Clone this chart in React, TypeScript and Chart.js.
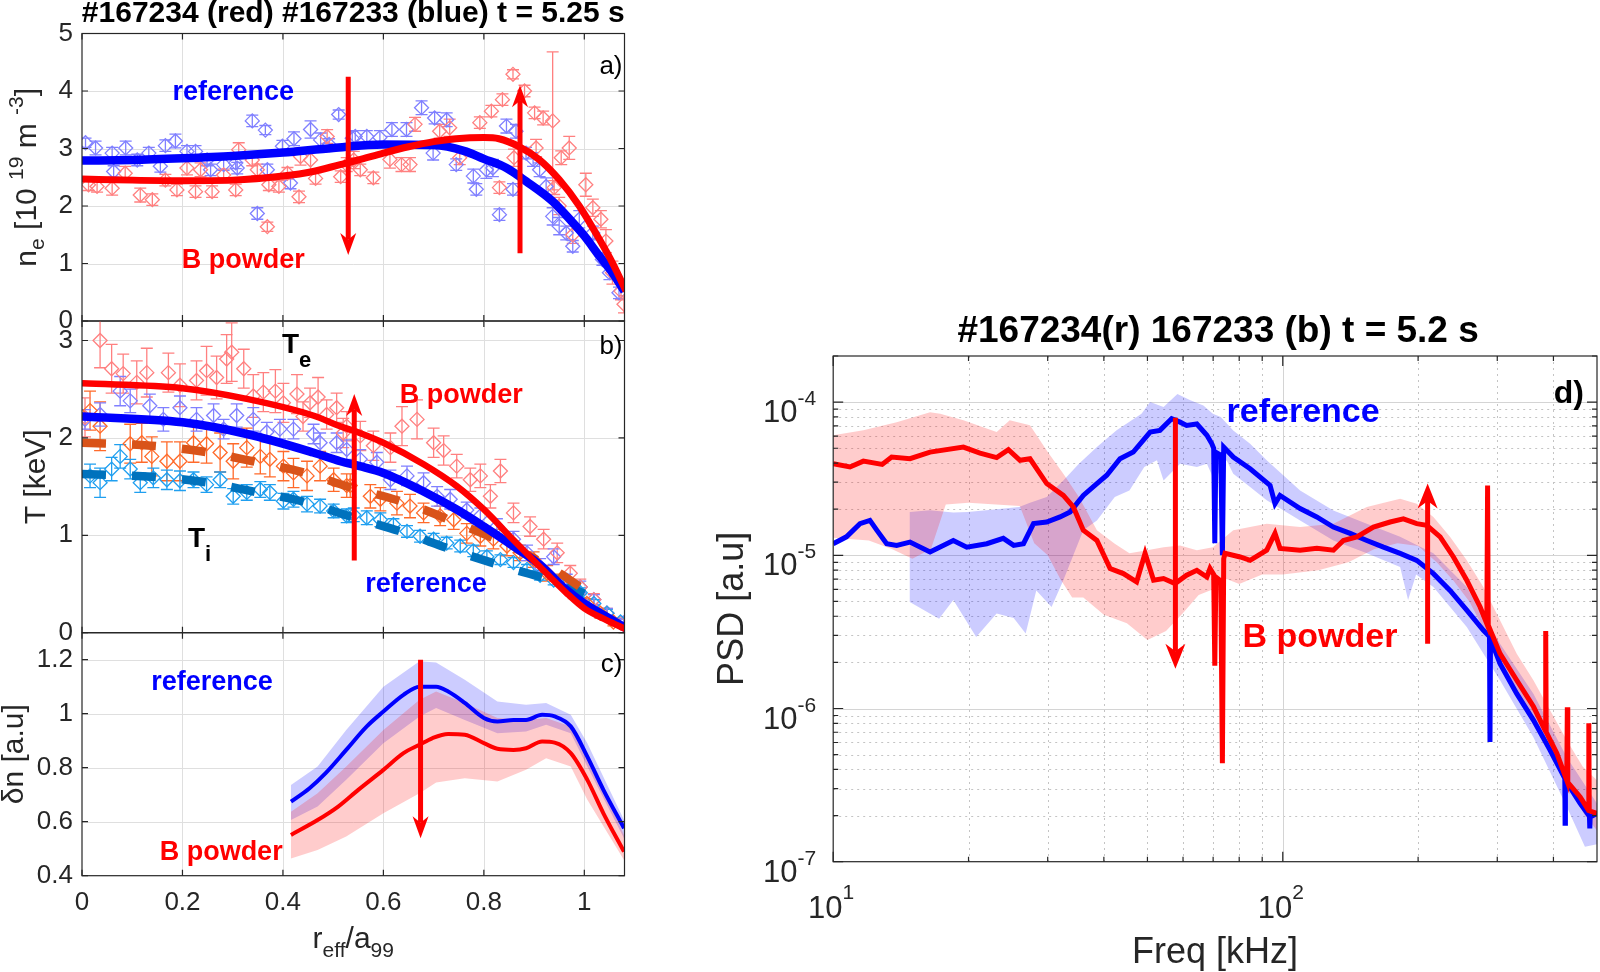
import React, { useEffect, useRef } from 'react';
import { Chart, registerables } from 'chart.js';

Chart.register(...registerables);

const FONT = '"Liberation Sans", Arial, Helvetica, sans-serif';
const AXC = '#262626';
const RED = '#ff0000';
const BLUE = '#0000ff';

// ---------------- panel a : density ----------------
const xTicksABC = [0, 0.2, 0.4, 0.6, 0.8, 1];
const yTicksA = [0, 1, 2, 3, 4, 5];
// [r/a, ne, err]
const neRefPts = [
  [0.007, 3.1, 0.08], [0.027, 3.01, 0.12], [0.06, 2.92, 0.1], [0.063, 2.6, 0.1], [0.087, 3.01, 0.12], [0.11, 2.8, 0.1],
  [0.133, 2.92, 0.1], [0.156, 2.69, 0.1], [0.166, 3.05, 0.1], [0.186, 3.13, 0.12], [0.209, 2.95, 0.1], [0.226, 2.95, 0.1],
  [0.249, 2.8, 0.1], [0.256, 2.63, 0.1], [0.282, 2.72, 0.1], [0.306, 2.75, 0.1], [0.309, 2.66, 0.1], [0.339, 3.48, 0.1],
  [0.349, 1.87, 0.1], [0.365, 3.32, 0.08], [0.369, 2.63, 0.1], [0.399, 3.04, 0.1], [0.415, 2.4, 0.1], [0.422, 3.17, 0.12],
  [0.455, 3.33, 0.15], [0.475, 3.15, 0.12], [0.492, 3.07, 0.1], [0.511, 3.59, 0.08], [0.538, 3.18, 0.12], [0.544, 3.21, 0.1],
  [0.567, 3.21, 0.1], [0.593, 3.19, 0.12], [0.617, 3.33, 0.12], [0.646, 3.33, 0.12], [0.676, 3.71, 0.12], [0.699, 2.92, 0.12],
  [0.702, 3.53, 0.1], [0.726, 3.5, 0.12], [0.745, 2.72, 0.1], [0.779, 2.52, 0.12], [0.785, 2.29, 0.1], [0.805, 2.63, 0.15],
  [0.818, 2.66, 0.15], [0.831, 1.85, 0.1], [0.845, 3.39, 0.12], [0.858, 2.29, 0.1], [0.864, 3.3, 0.12], [0.884, 2.92, 0.1],
  [0.898, 2.81, 0.12], [0.911, 2.63, 0.12], [0.924, 2.34, 0.15], [0.937, 1.82, 0.15], [0.95, 1.65, 0.15], [0.964, 1.53, 0.12],
  [0.977, 1.3, 0.1], [0.99, 1.77, 0.15], [1.017, 1.53, 0.12], [1.036, 1.07, 0.1], [1.05, 0.84, 0.12], [1.069, 0.49, 0.1],
  [1.083, 0.61, 0.1],
];
const neBPts = [
  [0.013, 2.37, 0.1], [0.03, 2.34, 0.1], [0.06, 2.31, 0.12], [0.086, 2.57, 0.12], [0.116, 2.19, 0.12], [0.14, 2.11, 0.1],
  [0.166, 2.45, 0.1], [0.189, 2.28, 0.1], [0.209, 2.66, 0.12], [0.226, 2.25, 0.1], [0.236, 2.63, 0.12], [0.259, 2.25, 0.1],
  [0.282, 2.54, 0.1], [0.306, 2.28, 0.1], [0.312, 2.98, 0.12], [0.339, 2.8, 0.1], [0.349, 2.63, 0.1], [0.369, 1.64, 0.08],
  [0.372, 2.37, 0.1], [0.392, 2.34, 0.1], [0.409, 2.57, 0.1], [0.432, 2.16, 0.1], [0.435, 2.86, 0.15], [0.455, 2.8, 0.2],
  [0.465, 2.48, 0.1], [0.488, 3.21, 0.12], [0.515, 2.51, 0.1], [0.527, 2.72, 0.12], [0.541, 2.8, 0.15], [0.554, 2.63, 0.1],
  [0.58, 2.49, 0.1], [0.613, 2.81, 0.15], [0.636, 2.72, 0.12], [0.653, 2.72, 0.12], [0.663, 3.42, 0.12], [0.712, 3.3, 0.12],
  [0.732, 3.36, 0.15], [0.752, 2.84, 0.12], [0.792, 3.45, 0.1], [0.815, 3.65, 0.1], [0.831, 2.32, 0.1], [0.837, 3.85, 0.1],
  [0.858, 4.29, 0.08], [0.86, 2.84, 0.15], [0.881, 4.0, 0.1], [0.901, 3.62, 0.1], [0.904, 3.01, 0.15], [0.918, 3.53, 0.12],
  [0.937, 3.48, 1.2], [0.94, 2.32, 0.12], [0.95, 2.0, 0.15], [0.954, 2.84, 0.12], [0.97, 3.01, 0.2], [0.977, 1.5, 0.15],
  [1.003, 2.37, 0.2], [1.017, 1.97, 0.15], [1.033, 1.77, 0.15], [1.043, 1.39, 0.2], [1.056, 0.84, 0.2], [1.073, 0.52, 0.15],
  [1.079, 0.29, 0.15],
];
const neRefFitX = [0, 0.1, 0.2, 0.3, 0.4, 0.5, 0.6, 0.7, 0.76, 0.8, 0.845, 0.884, 0.937, 0.977, 1.0, 1.03, 1.056, 1.08];
const neRefFitY = [2.79, 2.8, 2.83, 2.87, 2.93, 3.01, 3.07, 3.06, 2.96, 2.82, 2.66, 2.43, 2.08, 1.71, 1.48, 1.13, 0.84, 0.52];
const neBFitX = [0, 0.1, 0.2, 0.3, 0.4, 0.46, 0.514, 0.55, 0.6, 0.65, 0.7, 0.745, 0.8, 0.83, 0.871, 0.91, 0.95, 0.99, 1.03, 1.056, 1.083];
const neBFitY = [2.47, 2.45, 2.44, 2.45, 2.52, 2.6, 2.72, 2.8, 2.92, 3.03, 3.12, 3.17, 3.19, 3.17, 3.03, 2.81, 2.46, 2.0, 1.42, 1.01, 0.52];

// ---------------- panel b : temperatures ----------------
const yTicksB = [0, 1, 2, 3];
const teBPts = [
  [0.006, 2.21, 0.2], [0.036, 3.0, 0.28], [0.059, 2.71, 0.25], [0.082, 2.66, 0.2], [0.109, 2.57, 0.22], [0.129, 2.67, 0.25],
  [0.172, 2.67, 0.2], [0.195, 2.54, 0.22], [0.228, 2.59, 0.2], [0.248, 2.69, 0.25], [0.268, 2.62, 0.22], [0.288, 2.81, 0.25],
  [0.298, 2.88, 0.3], [0.322, 2.71, 0.2], [0.341, 2.43, 0.22], [0.361, 2.47, 0.2], [0.385, 2.48, 0.22], [0.401, 2.36, 0.2],
  [0.428, 2.45, 0.2], [0.44, 2.22, 0.15], [0.454, 2.36, 0.15], [0.47, 2.42, 0.2], [0.487, 2.24, 0.15], [0.507, 2.31, 0.15],
  [0.52, 2.05, 0.15], [0.527, 2.12, 0.15], [0.554, 2.02, 0.15], [0.58, 1.92, 0.15], [0.614, 1.9, 0.15], [0.637, 2.12, 0.2],
  [0.667, 2.19, 0.2], [0.7, 1.95, 0.15], [0.72, 1.87, 0.15], [0.746, 1.71, 0.12], [0.773, 1.57, 0.12], [0.793, 1.61, 0.12],
  [0.813, 1.4, 0.12], [0.833, 1.66, 0.12], [0.859, 1.23, 0.1], [0.892, 1.09, 0.1], [0.919, 0.96, 0.1], [0.946, 0.82, 0.1],
  [0.972, 0.61, 0.08], [0.992, 0.47, 0.08], [1.019, 0.34, 0.06], [1.045, 0.2, 0.05], [1.072, 0.1, 0.04],
];
const teRefPts = [
  [0.006, 2.19, 0.1], [0.036, 2.24, 0.12], [0.076, 2.48, 0.15], [0.096, 2.38, 0.12], [0.135, 2.33, 0.12], [0.162, 2.19, 0.12],
  [0.195, 2.31, 0.12], [0.228, 2.19, 0.12], [0.262, 2.23, 0.12], [0.282, 2.09, 0.1], [0.308, 2.23, 0.12], [0.341, 2.19, 0.12],
  [0.368, 2.06, 0.1], [0.394, 2.09, 0.1], [0.421, 2.09, 0.1], [0.461, 2.04, 0.1], [0.474, 1.95, 0.1], [0.507, 1.95, 0.1],
  [0.527, 1.88, 0.1], [0.554, 1.78, 0.1], [0.587, 1.75, 0.1], [0.614, 1.57, 0.1], [0.647, 1.61, 0.1], [0.68, 1.54, 0.1],
  [0.707, 1.4, 0.1], [0.733, 1.37, 0.1], [0.766, 1.26, 0.08], [0.793, 1.2, 0.08], [0.826, 1.09, 0.08], [0.859, 0.96, 0.08],
  [0.886, 0.82, 0.08], [0.912, 0.68, 0.08], [0.939, 0.78, 0.08], [0.965, 0.54, 0.06], [0.992, 0.47, 0.06], [1.019, 0.34, 0.05],
  [1.045, 0.2, 0.05], [1.078, 0.1, 0.04],
];
const tiBPts = [
  [0.016, 2.28, 0.2], [0.036, 2.12, 0.25], [0.096, 1.94, 0.2], [0.119, 1.95, 0.2], [0.139, 1.81, 0.2], [0.169, 1.76, 0.2],
  [0.195, 1.76, 0.2], [0.222, 1.95, 0.2], [0.248, 1.94, 0.2], [0.275, 1.85, 0.2], [0.301, 1.76, 0.18], [0.328, 1.9, 0.2],
  [0.355, 1.81, 0.18], [0.374, 1.78, 0.18], [0.401, 1.71, 0.15], [0.421, 1.64, 0.15], [0.448, 1.61, 0.15], [0.474, 1.71, 0.15],
  [0.501, 1.57, 0.12], [0.527, 1.51, 0.12], [0.534, 1.51, 0.12], [0.574, 1.4, 0.12], [0.594, 1.37, 0.12], [0.627, 1.33, 0.12],
  [0.653, 1.3, 0.12], [0.68, 1.23, 0.1], [0.713, 1.2, 0.1], [0.74, 1.16, 0.1], [0.766, 1.02, 0.1], [0.793, 0.99, 0.1],
  [0.819, 0.96, 0.1], [0.846, 0.89, 0.1], [0.872, 0.82, 0.08], [0.899, 0.75, 0.08], [0.926, 0.61, 0.08], [0.952, 0.54, 0.06],
  [0.979, 0.41, 0.06], [1.005, 0.3, 0.05], [1.032, 0.2, 0.05], [1.058, 0.11, 0.04],
];
const tiRefPts = [
  [0.016, 1.61, 0.12], [0.036, 1.54, 0.15], [0.059, 1.68, 0.12], [0.076, 1.81, 0.12], [0.096, 1.68, 0.1], [0.116, 1.54, 0.1],
  [0.142, 1.59, 0.1], [0.169, 1.57, 0.1], [0.195, 1.56, 0.1], [0.222, 1.57, 0.08], [0.248, 1.52, 0.08], [0.275, 1.57, 0.08],
  [0.301, 1.4, 0.08], [0.328, 1.44, 0.08], [0.355, 1.47, 0.08], [0.374, 1.44, 0.08], [0.401, 1.35, 0.08], [0.421, 1.37, 0.08],
  [0.448, 1.32, 0.08], [0.474, 1.3, 0.07], [0.501, 1.25, 0.07], [0.527, 1.2, 0.07], [0.541, 1.21, 0.07], [0.567, 1.18, 0.07],
  [0.594, 1.16, 0.07], [0.62, 1.11, 0.06], [0.647, 1.04, 0.06], [0.673, 0.99, 0.06], [0.7, 0.96, 0.06], [0.726, 0.92, 0.06],
  [0.753, 0.89, 0.06], [0.779, 0.84, 0.06], [0.806, 0.78, 0.06], [0.833, 0.75, 0.05], [0.859, 0.72, 0.05], [0.886, 0.65, 0.05],
  [0.912, 0.59, 0.05], [0.939, 0.54, 0.05], [0.965, 0.49, 0.05], [0.992, 0.41, 0.05], [1.019, 0.3, 0.04], [1.045, 0.2, 0.04],
  [1.072, 0.11, 0.04],
];
const teBFitX = [0, 0.2, 0.328, 0.46, 0.514, 0.553, 0.6, 0.68, 0.746, 0.8, 0.858, 0.911, 0.964, 1.0, 1.044, 1.083];
const teBFitY = [2.56, 2.51, 2.4, 2.23, 2.12, 2.05, 1.95, 1.73, 1.505, 1.265, 0.956, 0.68, 0.41, 0.25, 0.13, 0.035];
const teRefFitX = [0, 0.2, 0.328, 0.46, 0.514, 0.553, 0.6, 0.68, 0.746, 0.8, 0.858, 0.911, 0.964, 1.0, 1.044, 1.083];
const teRefFitY = [2.22, 2.16, 2.04, 1.85, 1.76, 1.71, 1.64, 1.45, 1.265, 1.09, 0.89, 0.7, 0.44, 0.3, 0.165, 0.045];
const tiBFitX = [0, 0.137, 0.24, 0.34, 0.445, 0.53, 0.64, 0.74, 0.84, 0.94, 1.0];
const tiBFitY = [1.95, 1.92, 1.86, 1.76, 1.64, 1.5, 1.34, 1.14, 0.92, 0.646, 0.44];
const tiRefFitX = [0, 0.14, 0.24, 0.34, 0.445, 0.53, 0.64, 0.74, 0.84, 0.94, 1.0];
const tiRefFitY = [1.63, 1.6, 1.55, 1.45, 1.34, 1.2, 1.03, 0.845, 0.68, 0.526, 0.4];

// ---------------- panel c : fluctuation ----------------
const yTicksC = [0.4, 0.6, 0.8, 1, 1.2];
const dnRefX = [0.416, 0.453, 0.485, 0.526, 0.567, 0.6, 0.64, 0.672, 0.705, 0.729, 0.762, 0.8, 0.827, 0.859, 0.884, 0.916, 0.941, 0.973, 1.006, 1.038, 1.079];
const dnRefY = [0.674, 0.724, 0.78, 0.866, 0.953, 1.008, 1.07, 1.1, 1.1, 1.082, 1.04, 0.984, 0.971, 0.977, 0.977, 0.996, 0.99, 0.953, 0.841, 0.718, 0.576];
const dnBX = [0.416, 0.469, 0.51, 0.55, 0.6, 0.64, 0.672, 0.697, 0.729, 0.762, 0.8, 0.827, 0.859, 0.884, 0.916, 0.941, 0.973, 1.006, 1.038, 1.079];
const dnBY = [0.551, 0.606, 0.656, 0.718, 0.792, 0.854, 0.885, 0.909, 0.925, 0.922, 0.891, 0.87, 0.866, 0.872, 0.897, 0.893, 0.854, 0.755, 0.631, 0.489];
const dnBandX = [0.416, 0.469, 0.526, 0.6, 0.672, 0.705, 0.762, 0.827, 0.884, 0.924, 0.973, 1.006, 1.079];
const dnRefUpY = [0.736, 0.804, 0.94, 1.1, 1.194, 1.19, 1.126, 1.045, 1.033, 1.04, 0.996, 0.891, 0.606];
const dnRefLoY = [0.606, 0.656, 0.755, 0.891, 0.99, 1.021, 0.977, 0.928, 0.934, 0.959, 0.928, 0.804, 0.539];
const dnBUpY = [0.637, 0.705, 0.804, 0.94, 1.052, 1.082, 1.04, 0.984, 0.977, 0.984, 0.953, 0.854, 0.551];
const dnBLoY = [0.464, 0.495, 0.545, 0.631, 0.705, 0.745, 0.761, 0.749, 0.792, 0.835, 0.804, 0.681, 0.458];

// ---------------- panel d : spectra ----------------
const yExpD = [-7, -6, -5, -4];
const xExpD = [1, 2];
const xMinorD = [20, 30, 40, 50, 60, 70, 80, 90, 200, 300, 400];
const psdRedX = [10, 10.9, 11.67, 12.85, 13.49, 14.82, 16.42, 19.48, 21.21, 23.1, 24.53, 26.03, 27.4, 29.85, 32.5, 34.2, 36, 38.6, 41.3, 44.2, 47.3, 49.4, 51.6, 54.3, 57.6, 61.1, 64.4, 67.8, 68.9, 70.2, 70.6, 71.0, 72.8, 73.4, 73.9, 74.4, 80.4, 84.6, 92.1, 96.1, 98.6, 109.3, 119.1, 129.6, 136.4, 146.1, 159.1, 173.3, 185.5, 198.6, 209.1, 223.9, 239.7, 256.6, 274.8, 284.4, 285.5, 286.5, 304.3, 331.5, 361, 383.3, 384.5, 385.5, 407, 428.3, 429.5, 430.5, 458.6, 478.6, 479.5, 480.5, 499.5];
const psdRedY = [3.96e-5, 3.77e-5, 4.12e-5, 3.92e-5, 4.38e-5, 4.27e-5, 4.72e-5, 5.09e-5, 4.65e-5, 4.34e-5, 4.89e-5, 4.17e-5, 4.27e-5, 2.94e-5, 2.46e-5, 2.07e-5, 1.46e-5, 1.25e-5, 8.2e-6, 7.6e-6, 6.7e-6, 1.03e-5, 6.87e-6, 7.05e-6, 6.54e-6, 7.41e-6, 7.98e-6, 7.22e-6, 8.2e-6, 7.5e-6, 1.9e-6, 7.2e-6, 6.8e-6, 4.4e-7, 9.5e-6, 1.03e-5, 9.75e-6, 9.27e-6, 1.08e-5, 1.39e-5, 1.11e-5, 1.08e-5, 1.11e-5, 1.08e-5, 1.25e-5, 1.32e-5, 1.53e-5, 1.65e-5, 1.73e-5, 1.61e-5, 1.57e-5, 1.32e-5, 9.75e-6, 6.87e-6, 4.6e-6, 3.58e-6, 2.86e-5, 3.5e-6, 2.28e-6, 1.53e-6, 1.03e-6, 7.2e-7, 3.2e-6, 7.0e-7, 5.1e-7, 3.4e-7, 1.02e-6, 3.3e-7, 2.65e-7, 2.17e-7, 8e-7, 2.15e-7, 2.07e-7];
const psdBlueX = [10, 10.7, 11.47, 12.07, 12.5, 13.15, 13.84, 14.82, 16.42, 18.5, 19.82, 21.96, 23.9, 25.2, 26.5, 27.9, 29.85, 31.96, 33.65, 36, 38.6, 40.6, 43.45, 46.5, 50.7, 53.3, 56.6, 59.1, 61.1, 64.4, 67.8, 69.5, 70.2, 70.6, 71.0, 72.8, 73.4, 73.9, 77.6, 84.6, 93.7, 96.1, 98.6, 109.3, 119, 129.6, 141.2, 153.8, 167.5, 182.4, 198.6, 216.3, 235.5, 256.6, 279.4, 288.3, 289, 289.8, 304.3, 331.5, 361, 393.1, 424, 424.6, 425.3, 458.6, 481, 481.9, 482.8, 500];
const psdBlueY = [1.19e-5, 1.32e-5, 1.61e-5, 1.69e-5, 1.46e-5, 1.19e-5, 1.16e-5, 1.22e-5, 1.05e-5, 1.25e-5, 1.13e-5, 1.19e-5, 1.29e-5, 1.16e-5, 1.19e-5, 1.61e-5, 1.65e-5, 1.78e-5, 1.92e-5, 2.46e-5, 2.94e-5, 3.33e-5, 4.27e-5, 4.72e-5, 6.37e-5, 6.54e-5, 7.8e-5, 7.4e-5, 7.05e-5, 7.2e-5, 6.07e-5, 5.36e-5, 5.0e-5, 1.2e-5, 4.7e-5, 4.5e-5, 1.0e-5, 5.09e-5, 4.38e-5, 3.67e-5, 2.86e-5, 2.17e-5, 2.46e-5, 2.02e-5, 1.78e-5, 1.53e-5, 1.39e-5, 1.25e-5, 1.13e-5, 1.03e-5, 9.27e-6, 7.59e-6, 5.9e-6, 4.38e-6, 3.24e-6, 2.95e-6, 6.05e-7, 2.85e-6, 1.96e-6, 1.25e-6, 8.4e-7, 5.35e-7, 3.5e-7, 1.78e-7, 3.4e-7, 2.4e-7, 1.98e-7, 1.65e-7, 1.96e-7, 2.07e-7];
const psdRedUp = [[10, 6.07e-5], [11.67, 6.54e-5], [13.84, 7.4e-5], [16.42, 8.6e-5], [17.3, 8.4e-5], [19.48, 7.6e-5], [23.1, 6.37e-5], [24.7, 7.6e-5], [27.4, 7.05e-5], [29.85, 4.84e-5], [32.5, 3.41e-5], [35.2, 2.4e-5], [38.6, 1.46e-5], [42.3, 1.19e-5], [45.6, 1.03e-5], [49.9, 1.08e-5], [54.3, 1.13e-5], [59.1, 1.16e-5], [64.4, 1.08e-5], [69.9, 1.13e-5], [77.6, 1.46e-5], [92.1, 1.61e-5], [109.3, 1.53e-5], [129.6, 1.61e-5], [153.8, 2.07e-5], [182.4, 2.34e-5], [198.6, 2.17e-5], [216.3, 1.78e-5], [235.5, 1.32e-5], [256.6, 9.27e-6], [279.4, 6.2e-6], [304.3, 3.77e-6], [331.5, 2.28e-6], [361, 1.53e-6], [393.1, 9.75e-7], [428.3, 6.2e-7], [465, 4.16e-7], [500, 3.4e-7]];
const psdRedLo = [[10, 1.3e-5], [12, 1.25e-5], [13.5, 1.1e-5], [15, 9.5e-6], [16.5, 1.1e-5], [17.8, 2.15e-5], [20, 2.2e-5], [23, 2.15e-5], [26, 2.1e-5], [28, 1.2e-5], [30, 1.0e-5], [32, 7e-6], [34, 5.3e-6], [36, 5.3e-6], [40, 4.1e-6], [45, 3.6e-6], [50, 2.8e-6], [55, 3.2e-6], [60, 4.2e-6], [65, 5.5e-6], [70, 6e-6], [75, 7e-6], [80, 6.5e-6], [90, 7.5e-6], [100, 7.5e-6], [120, 8e-6], [140, 9e-6], [160, 1.1e-5], [180, 1.2e-5], [200, 1.15e-5], [220, 9e-6], [240, 6.8e-6], [260, 5e-6], [280, 3.3e-6], [300, 2.3e-6], [330, 1.3e-6], [360, 8.5e-7], [400, 5e-7], [430, 3.2e-7], [470, 2e-7], [500, 1.6e-7]];
const psdBlueUp = [[14.8, 1.92e-5], [16.4, 1.97e-5], [18.5, 1.9e-5], [19.9, 1.92e-5], [23.1, 2.0e-5], [25.9, 2.07e-5], [27.4, 2.2e-5], [29.85, 2.4e-5], [32.5, 3.08e-5], [35.2, 3.96e-5], [38.6, 5.09e-5], [42.7, 6.54e-5], [48.5, 8.4e-5], [50.7, 1.0e-4], [54.3, 9.3e-5], [58.3, 1.13e-4], [62.3, 1.03e-4], [66.6, 9.5e-5], [69.9, 8.4e-5], [72.8, 8e-5], [77.6, 6.53e-5], [84.6, 5.35e-5], [92.1, 4.17e-5], [109.3, 2.65e-5], [129.6, 1.96e-5], [153.8, 1.61e-5], [182.4, 1.32e-5], [216.3, 1.03e-5], [256.6, 6.2e-6], [304.3, 2.65e-6], [361, 1.25e-6], [428.3, 4.8e-7], [500, 2.4e-7]];
const psdBlueLo = [[14.8, 4.96e-6], [16.4, 4.17e-6], [17.2, 3.86e-6], [18.5, 5.1e-6], [20.8, 2.93e-6], [23.1, 4.17e-6], [25.2, 3.9e-6], [26.8, 3.09e-6], [28.3, 5.9e-6], [30.6, 4.6e-6], [32.5, 6.87e-6], [36, 1.46e-5], [38.6, 1.69e-5], [42.3, 2.4e-5], [45.6, 2.65e-5], [49.2, 3.77e-5], [52.5, 4.17e-5], [54.3, 3.08e-5], [59.1, 3.96e-5], [64.4, 3.77e-5], [67.8, 3.96e-5], [70.4, 3.08e-5], [75, 4.17e-5], [77.6, 3.41e-5], [84.6, 2.79e-5], [92.1, 2.29e-5], [109.3, 1.69e-5], [129.6, 1.25e-5], [153.8, 1.03e-5], [182.4, 8.4e-6], [190, 5.1e-6], [198, 7.5e-6], [216.3, 6.2e-6], [256.6, 3.41e-6], [304.3, 1.53e-6], [361, 6.5e-7], [428.3, 2.28e-7], [470, 1.25e-7], [500, 1.3e-7]];

// ---------------- annotations (data coordinates) ----------------
const arrowsA = [[0.53, 4.25, 1.15], [0.872, 1.18, 4.1]];
const arrowsB = [[0.542, 0.74, 2.45]];
const arrowsC = [[0.674, 1.2, 0.539]];
const arrowsD = [[57.7, 7.9e-5, 1.82e-6], [210, 2.65e-6, 2.94e-5]];
const notesA = [{ t: 'reference', x: 0.301, y: 3.843, c: BLUE }, { t: 'B powder', x: 0.321, y: 0.92, c: RED }];
const notesB = [{ t: 'B powder', x: 0.755, y: 2.358, c: RED }, { t: 'reference', x: 0.685, y: 0.421, c: BLUE }];
const notesC = [{ t: 'reference', x: 0.259, y: 1.088, c: BLUE }, { t: 'B powder', x: 0.277, y: 0.458, c: RED }];
const notesD = [{ t: 'reference', x: 111, y: 7.4e-5, c: BLUE }, { t: 'B powder', x: 121, y: 2.52e-6, c: RED }];

// ---------------- helpers ----------------
type Part = { t: string; s: number; dy?: number; b?: boolean };
const fnt = (s: number, b?: boolean) => `${b ? 'bold ' : ''}${s}px ${FONT}`;
const xy = (xs: number[], ys: number[]) => xs.map((x, i) => ({ x, y: ys[i] }));
const pairs = (p: number[][]) => p.map((q) => ({ x: q[0], y: q[1] }));

function txt(ctx: any, s: string, x: number, y: number, size: number, bold: boolean, align: string, base: string, color: string) {
  ctx.font = fnt(size, bold);
  ctx.textAlign = align;
  ctx.textBaseline = base;
  ctx.fillStyle = color;
  ctx.fillText(s, x, y);
}
function richWidth(ctx: any, parts: Part[]) {
  let w = 0;
  for (const p of parts) { ctx.font = fnt(p.s, p.b); w += ctx.measureText(p.t).width; }
  return w;
}
function drawRich(ctx: any, parts: Part[], x: number, y: number, align: string, color: string) {
  const w = richWidth(ctx, parts);
  let cx = align === 'center' ? x - w / 2 : align === 'right' ? x - w : x;
  ctx.fillStyle = color;
  ctx.textAlign = 'left';
  ctx.textBaseline = 'alphabetic';
  for (const p of parts) {
    ctx.font = fnt(p.s, p.b);
    ctx.fillText(p.t, cx, y + (p.dy || 0));
    cx += ctx.measureText(p.t).width;
  }
}
function drawRichRot(ctx: any, parts: Part[], bx: number, cy: number, color: string) {
  ctx.save();
  ctx.translate(bx, cy);
  ctx.rotate(-Math.PI / 2);
  drawRich(ctx, parts, 0, 0, 'center', color);
  ctx.restore();
}
function gridLines(chart: any, xs: number[], ys: number[], color: string, dash: number[]) {
  const { ctx, chartArea: a } = chart;
  const sx = chart.scales.x, sy = chart.scales.y;
  ctx.save();
  ctx.strokeStyle = color;
  ctx.lineWidth = 1;
  ctx.setLineDash(dash);
  ctx.beginPath();
  xs.forEach((v) => {
    const p = Math.round(sx.getPixelForValue(v)) + 0.5;
    if (p > a.left + 2 && p < a.right - 2) { ctx.moveTo(p, a.top); ctx.lineTo(p, a.bottom); }
  });
  ys.forEach((v) => {
    const p = Math.round(sy.getPixelForValue(v)) + 0.5;
    if (p > a.top + 2 && p < a.bottom - 2) { ctx.moveTo(a.left, p); ctx.lineTo(a.right, p); }
  });
  ctx.stroke();
  ctx.restore();
}
function ticksIn(chart: any, xs: number[], ys: number[], len: number, box: boolean) {
  const { ctx, chartArea: a } = chart;
  const sx = chart.scales.x, sy = chart.scales.y;
  ctx.save();
  ctx.strokeStyle = AXC;
  ctx.lineWidth = 1.2;
  ctx.setLineDash([]);
  if (box) ctx.strokeRect(a.left, a.top, a.right - a.left, a.bottom - a.top);
  ctx.beginPath();
  xs.forEach((v) => {
    const p = sx.getPixelForValue(v);
    if (p >= a.left - 0.5 && p <= a.right + 0.5) {
      ctx.moveTo(p, a.bottom); ctx.lineTo(p, a.bottom - len);
      ctx.moveTo(p, a.top); ctx.lineTo(p, a.top + len);
    }
  });
  ys.forEach((v) => {
    const p = sy.getPixelForValue(v);
    if (p >= a.top - 0.5 && p <= a.bottom + 0.5) {
      ctx.moveTo(a.left, p); ctx.lineTo(a.left + len, p);
      ctx.moveTo(a.right, p); ctx.lineTo(a.right - len, p);
    }
  });
  ctx.stroke();
  ctx.restore();
}
function errorBars(chart: any) {
  const { ctx, chartArea: a } = chart;
  const sy = chart.scales.y;
  ctx.save();
  ctx.beginPath();
  ctx.rect(a.left, a.top, a.right - a.left, a.bottom - a.top);
  ctx.clip();
  chart.data.datasets.forEach((ds: any, i: number) => {
    if (!ds.errors) return;
    const meta = chart.getDatasetMeta(i);
    ctx.strokeStyle = ds.borderColor;
    ctx.lineWidth = 1.3;
    ctx.beginPath();
    meta.data.forEach((el: any, j: number) => {
      const e = ds.errors[j] || 0;
      const v = ds.data[j].y;
      const y1 = sy.getPixelForValue(v + e), y2 = sy.getPixelForValue(v - e);
      ctx.moveTo(el.x, y1); ctx.lineTo(el.x, y2);
      ctx.moveTo(el.x - 6, y1); ctx.lineTo(el.x + 6, y1);
      ctx.moveTo(el.x - 6, y2); ctx.lineTo(el.x + 6, y2);
    });
    ctx.stroke();
  });
  ctx.restore();
}
function arrow(chart: any, xv: number, y0v: number, y1v: number, headLen: number, headHalf: number, lw: number) {
  const { ctx } = chart;
  const px = chart.scales.x.getPixelForValue(xv);
  const p0 = chart.scales.y.getPixelForValue(y0v);
  const p1 = chart.scales.y.getPixelForValue(y1v);
  const dir = p1 > p0 ? 1 : -1;
  const wing = p1 - dir * headLen;
  const notch = p1 - dir * headLen * 0.7;
  ctx.save();
  ctx.strokeStyle = RED;
  ctx.fillStyle = RED;
  ctx.lineWidth = lw;
  ctx.beginPath();
  ctx.moveTo(px, p0);
  ctx.lineTo(px, notch);
  ctx.stroke();
  ctx.beginPath();
  ctx.moveTo(px, p1);
  ctx.lineTo(px - headHalf, wing);
  ctx.lineTo(px, notch);
  ctx.lineTo(px + headHalf, wing);
  ctx.closePath();
  ctx.fill();
  ctx.restore();
}
function notes(chart: any, list: any[], size: number) {
  const sx = chart.scales.x, sy = chart.scales.y;
  list.forEach((n) => txt(chart.ctx, n.t, sx.getPixelForValue(n.x), sy.getPixelForValue(n.y), size, true, 'center', 'alphabetic', n.c));
}

function baseOptions(pad: any, xType: string, xMin: number, xMax: number, yType: string, yMin: number, yMax: number) {
  return {
    animation: false,
    responsive: false,
    maintainAspectRatio: false,
    devicePixelRatio: 1,
    events: [],
    layout: { padding: pad },
    plugins: { legend: { display: false }, tooltip: { enabled: false }, title: { display: false } },
    scales: {
      x: { type: xType, min: xMin, max: xMax, display: false },
      y: { type: yType, min: yMin, max: yMax, display: false },
    },
  };
}
function scatterDs(arr: number[][], color: string, order: number) {
  return {
    data: arr.map((p) => ({ x: p[0], y: p[1] })),
    errors: arr.map((p) => p[2]),
    showLine: false,
    pointStyle: 'rectRot',
    pointRadius: 7,
    pointBorderColor: color,
    pointBackgroundColor: 'rgba(0,0,0,0)',
    pointBorderWidth: 1.3,
    borderColor: color,
    backgroundColor: 'rgba(0,0,0,0)',
    order,
  };
}
function lineDs(data: any[], color: string, width: number, order: number, extra: any = {}) {
  return {
    data,
    borderColor: color,
    backgroundColor: color,
    borderWidth: width,
    pointRadius: 0,
    fill: false,
    cubicInterpolationMode: 'monotone',
    order,
    ...extra,
  };
}
function bandDs(up: any[], lo: any[], color: string, order: number) {
  return {
    data: [...up, ...lo.slice().reverse()],
    borderColor: 'rgba(0,0,0,0)',
    borderWidth: 0,
    backgroundColor: color,
    fill: 'shape',
    pointRadius: 0,
    tension: 0,
    order,
  };
}

// ---------------- chart configs ----------------
function configA() {
  const plugin = {
    id: 'decorA',
    beforeDatasetsDraw(chart: any) {
      gridLines(chart, xTicksABC, yTicksA, '#dfdfdf', []);
      errorBars(chart);
    },
    afterDatasetsDraw(chart: any) {
      const { ctx, chartArea: a } = chart;
      const sy = chart.scales.y;
      ticksIn(chart, xTicksABC, yTicksA, 6, true);
      yTicksA.forEach((v) => txt(ctx, String(v), a.left - 9, sy.getPixelForValue(v), 26, false, 'right', 'middle', AXC));
      txt(ctx, '#167234 (red) #167233 (blue) t = 5.25 s', (a.left + a.right) / 2, 22, 30, true, 'center', 'alphabetic', '#000');
      drawRichRot(ctx, [
        { t: 'n', s: 30 }, { t: 'e', s: 21, dy: 8 }, { t: ' [10 ', s: 30 }, { t: '19', s: 21, dy: -13 },
        { t: ' m ', s: 30 }, { t: '-3', s: 21, dy: -13 }, { t: ']', s: 30 },
      ], 36, (a.top + a.bottom) / 2, AXC);
      txt(ctx, 'a)', a.right - 2, a.top + 40, 26, false, 'right', 'alphabetic', '#000');
      notes(chart, notesA, 27);
      arrowsA.forEach((r) => arrow(chart, r[0], r[1], r[2], 22, 8, 5));
    },
  };
  return {
    type: 'line',
    data: {
      datasets: [
        lineDs(xy(neBFitX, neBFitY), RED, 7, 0),
        lineDs(xy(neRefFitX, neRefFitY), BLUE, 8.5, 1),
        scatterDs(neBPts, '#ff8080', 5),
        scatterDs(neRefPts, '#8080ff', 6),
      ],
    },
    options: baseOptions({ left: 82, top: 33.5, right: 15.5, bottom: 9 }, 'linear', 0, 1.08, 'linear', 0, 5),
    plugins: [plugin],
  };
}

function configB() {
  const plugin = {
    id: 'decorB',
    beforeDatasetsDraw(chart: any) {
      gridLines(chart, xTicksABC, yTicksB, '#dfdfdf', []);
      errorBars(chart);
    },
    afterDatasetsDraw(chart: any) {
      const { ctx, chartArea: a } = chart;
      const sx = chart.scales.x, sy = chart.scales.y;
      ticksIn(chart, xTicksABC, yTicksB, 6, true);
      yTicksB.forEach((v) => txt(ctx, String(v), a.left - 9, sy.getPixelForValue(v), 26, false, 'right', 'middle', AXC));
      drawRichRot(ctx, [{ t: 'T [keV]', s: 30 }], 45, (a.top + a.bottom) / 2, AXC);
      txt(ctx, 'b)', a.right - 2, a.top + 33, 26, false, 'right', 'alphabetic', '#000');
      notes(chart, notesB, 27);
      drawRich(ctx, [{ t: 'T', s: 28, b: true }, { t: 'e', s: 22, b: true, dy: 14 }], sx.getPixelForValue(0.398), sy.getPixelForValue(2.87), 'left', '#000');
      drawRich(ctx, [{ t: 'T', s: 28, b: true }, { t: 'i', s: 22, b: true, dy: 14 }], sx.getPixelForValue(0.211), sy.getPixelForValue(0.88), 'left', '#000');
      arrowsB.forEach((r) => arrow(chart, r[0], r[1], r[2], 22, 8, 5));
    },
  };
  const dash = { borderDash: [24, 26], borderCapStyle: 'butt' };
  return {
    type: 'line',
    data: {
      datasets: [
        lineDs(xy(teBFitX, teBFitY), RED, 6.5, 0),
        lineDs(xy(teRefFitX, teRefFitY), BLUE, 8.5, 1),
        lineDs(xy(tiBFitX, tiBFitY), '#d95319', 8.5, 2, dash),
        lineDs(xy(tiRefFitX, tiRefFitY), '#0072bd', 8.5, 3, dash),
        scatterDs(tiBPts, '#ff6a2a', 5),
        scatterDs(tiRefPts, '#1f9ff0', 6),
        scatterDs(teBPts, '#ff8080', 7),
        scatterDs(teRefPts, '#8080ff', 8),
      ],
    },
    options: baseOptions({ left: 82, top: 11, right: 15.5, bottom: 12.3 }, 'linear', 0, 1.08, 'linear', 0, 3.2),
    plugins: [plugin],
  };
}

function configC() {
  const plugin = {
    id: 'decorC',
    beforeDatasetsDraw(chart: any) {
      gridLines(chart, xTicksABC, yTicksC, '#dfdfdf', []);
    },
    afterDatasetsDraw(chart: any) {
      const { ctx, chartArea: a } = chart;
      const sx = chart.scales.x, sy = chart.scales.y;
      ticksIn(chart, xTicksABC, yTicksC, 6, true);
      yTicksC.forEach((v) => txt(ctx, String(v), a.left - 9, sy.getPixelForValue(v), 26, false, 'right', 'middle', AXC));
      xTicksABC.forEach((v) => txt(ctx, String(v), sx.getPixelForValue(v), a.bottom + 27, 26, false, 'center', 'middle', AXC));
      drawRichRot(ctx, [{ t: '\u03b4n [a.u]', s: 30 }], 23, (a.top + a.bottom) / 2, AXC);
      drawRich(ctx, [{ t: 'r', s: 30 }, { t: 'eff', s: 21, dy: 9 }, { t: '/a', s: 30 }, { t: '99', s: 21, dy: 9 }], (a.left + a.right) / 2, a.bottom + 72, 'center', AXC);
      txt(ctx, 'c)', a.right - 2, a.top + 39, 26, false, 'right', 'alphabetic', '#000');
      notes(chart, notesC, 27);
      arrowsC.forEach((r) => arrow(chart, r[0], r[1], r[2], 22, 8, 5));
    },
  };
  return {
    type: 'line',
    data: {
      datasets: [
        lineDs(xy(dnBX, dnBY), RED, 4, 0),
        lineDs(xy(dnRefX, dnRefY), BLUE, 4, 1),
        bandDs(xy(dnBandX, dnBUpY), xy(dnBandX, dnBLoY), 'rgba(255,0,0,0.2)', 2),
        bandDs(xy(dnBandX, dnRefUpY), xy(dnBandX, dnRefLoY), 'rgba(0,0,255,0.2)', 3),
      ],
    },
    options: baseOptions({ left: 82, top: 7.7, right: 15.5, bottom: 96.3 }, 'linear', 0, 1.08, 'linear', 0.4, 1.3),
    plugins: [plugin],
  };
}

function configD() {
  const yMajor = yExpD.map((e) => Math.pow(10, e));
  const xMajor = xExpD.map((e) => Math.pow(10, e));
  const yMinor: number[] = [];
  yExpD.forEach((e) => { for (let k = 2; k <= 9; k++) yMinor.push(k * Math.pow(10, e)); });
  const plugin = {
    id: 'decorD',
    beforeDatasetsDraw(chart: any) {
      gridLines(chart, xMinorD, yMinor, '#c4c4c4', [2, 4]);
      gridLines(chart, xMajor, yMajor, '#d4d4d4', []);
    },
    afterDatasetsDraw(chart: any) {
      const { ctx, chartArea: a } = chart;
      const sx = chart.scales.x, sy = chart.scales.y;
      ticksIn(chart, xMajor, yMajor, 10, true);
      ticksIn(chart, xMinorD, yMinor, 5, false);
      yExpD.forEach((e) => drawRich(ctx, [{ t: '10', s: 31 }, { t: String(e), s: 21, dy: -17 }], a.left - 17, sy.getPixelForValue(Math.pow(10, e)) + 20, 'right', AXC));
      xExpD.forEach((e) => drawRich(ctx, [{ t: '10', s: 31 }, { t: String(e), s: 21, dy: -19 }], sx.getPixelForValue(Math.pow(10, e)) - 2, a.bottom + 56, 'center', AXC));
      txt(ctx, '#167234(r) 167233 (b) t = 5.2 s', (a.left + a.right) / 2 + 3, a.top - 14, 37, true, 'center', 'alphabetic', '#000');
      drawRichRot(ctx, [{ t: 'PSD [a.u]', s: 36 }], 83, (a.top + a.bottom) / 2, AXC);
      txt(ctx, 'Freq [kHz]', (a.left + a.right) / 2, a.bottom + 101, 36, false, 'center', 'alphabetic', AXC);
      txt(ctx, 'd)', a.right - 13, a.top + 47, 32, true, 'right', 'alphabetic', '#000');
      notes(chart, notesD, 34);
      arrowsD.forEach((r) => arrow(chart, r[0], r[1], r[2], 25, 10, 5));
    },
  };
  return {
    type: 'line',
    data: {
      datasets: [
        lineDs(xy(psdRedX, psdRedY), RED, 5, 0, { cubicInterpolationMode: 'default', tension: 0 }),
        lineDs(xy(psdBlueX, psdBlueY), BLUE, 5, 1, { cubicInterpolationMode: 'default', tension: 0 }),
        bandDs(pairs(psdRedUp), pairs(psdRedLo), 'rgba(255,0,0,0.2)', 2),
        bandDs(pairs(psdBlueUp), pairs(psdBlueLo), 'rgba(0,0,255,0.2)', 3),
      ],
    },
    options: baseOptions({ left: 173.2, top: 76, right: 3, bottom: 110.3 }, 'logarithmic', 10, 500, 'logarithmic', 1e-7, 2e-4),
    plugins: [plugin],
  };
}

function ChartCanvas({ make, left, top, width, height }: any) {
  const ref = useRef<HTMLCanvasElement>(null);
  useEffect(() => {
    const chart = new Chart(ref.current as any, make() as any);
    return () => chart.destroy();
  }, []);
  return (
    <canvas
      ref={ref}
      width={width}
      height={height}
      style={{ position: 'absolute', left, top, width, height }}
    />
  );
}

export default function App() {
  useEffect(() => {
    document.body.style.margin = '0';
    document.body.style.background = '#ffffff';
  }, []);
  return (
    <div style={{ position: 'absolute', left: 0, top: 0, width: 1600, height: 972, background: '#ffffff', overflow: 'hidden' }}>
      <ChartCanvas make={configA} left={0} top={0} width={640} height={330} />
      <ChartCanvas make={configB} left={0} top={310} width={640} height={335} />
      <ChartCanvas make={configC} left={0} top={625} width={640} height={347} />
      <ChartCanvas make={configD} left={660} top={280} width={940} height={692} />
    </div>
  );
}
